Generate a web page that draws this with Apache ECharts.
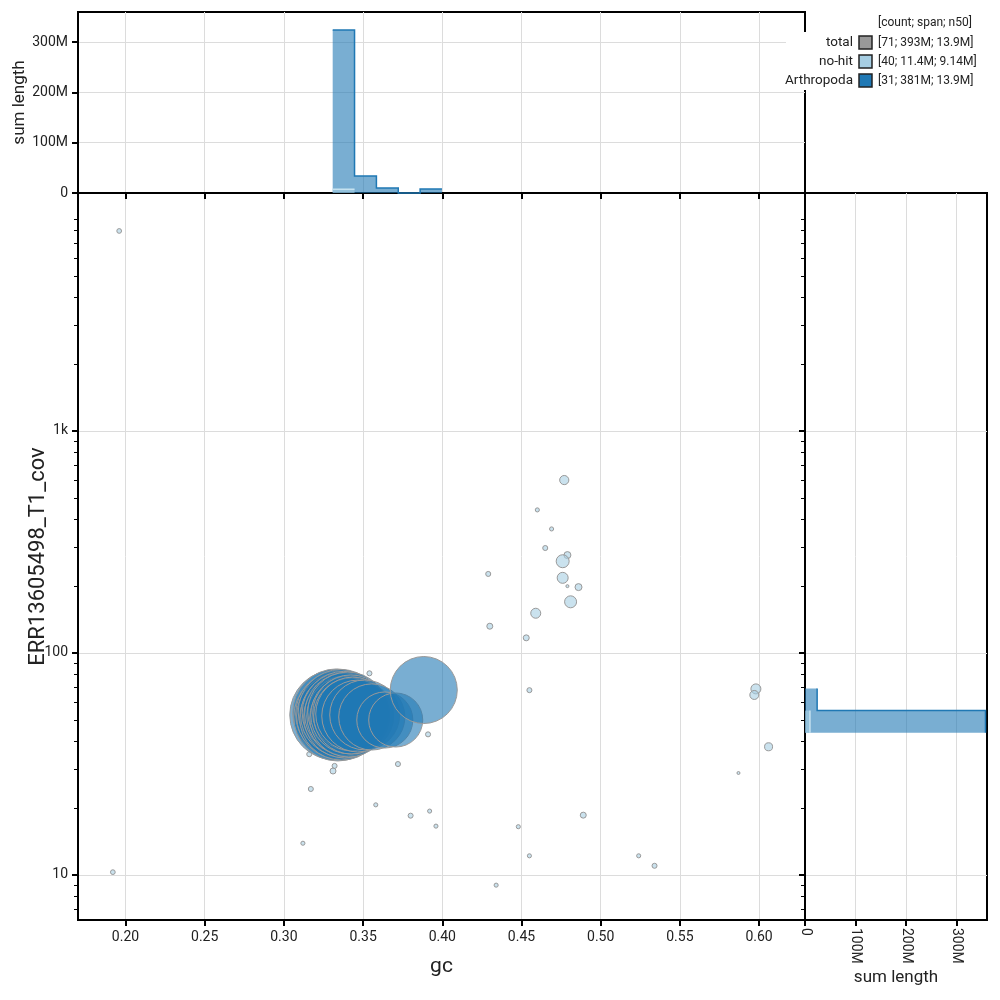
<!DOCTYPE html>
<html>
<head>
<meta charset="utf-8">
<script src="https://cdn.jsdelivr.net/npm/echarts@6.0.0/dist/echarts.min.js"></script>
<style>
  html, body { margin: 0; padding: 0; background: #fff; }
  #chart { width: 1000px; height: 1000px; }
</style>
</head>
<body>
<div id="chart"></div>
<script>
// axis ticks
const gcTicks = [0.2, 0.25, 0.3, 0.35, 0.4, 0.45, 0.5, 0.55, 0.6];
const covTicks = [10, 100, 1000];
const covMinorTicks = [7, 8, 9, 20, 30, 40, 50, 60, 70, 80, 90, 200, 300, 400, 500, 600, 700, 800, 900,
  2000, 3000, 4000, 5000, 6000, 7000, 8000, 9000];
const lenTicks = [0, 100e6, 200e6, 300e6];

// no-hit contigs (gc, coverage, length in Mb)
const noHitGc = [0.338, 0.196, 0.192, 0.477, 0.460, 0.469, 0.465, 0.479, 0.476, 0.476, 0.479, 0.486, 0.481,
  0.429, 0.459, 0.430, 0.453, 0.455, 0.354, 0.391, 0.316, 0.332, 0.331, 0.317, 0.372, 0.358, 0.380, 0.392,
  0.396, 0.312, 0.448, 0.489, 0.455, 0.524, 0.534, 0.434, 0.598, 0.597, 0.606, 0.587];
const noHitCov = [50, 7960, 10.3, 601, 441, 362, 297, 276, 259, 218, 200, 198, 170,
  227, 151, 132, 117, 68, 81, 43, 35, 31, 29.4, 24.4, 31.6, 20.7, 18.5, 19.4,
  16.6, 13.9, 16.5, 18.6, 12.2, 12.2, 11.0, 9.0, 68.9, 64.7, 37.8, 28.8];
const noHitLen = [9.14, 0.04, 0.04, 0.15, 0.03, 0.03, 0.045, 0.087, 0.3, 0.215, 0.016, 0.087, 0.256,
  0.045, 0.178, 0.064, 0.064, 0.045, 0.045, 0.045, 0.045, 0.045, 0.064, 0.045, 0.045, 0.03, 0.045, 0.03,
  0.03, 0.03, 0.03, 0.064, 0.03, 0.03, 0.045, 0.03, 0.178, 0.144, 0.114, 0.016];

// Arthropoda contigs (gc, coverage, length in Mb)
const arthGc = [0.3308, 0.3352, 0.3289, 0.3403, 0.3384, 0.3327, 0.3415,
  0.3321, 0.3333, 0.3340, 0.3346, 0.3352, 0.3359, 0.3365, 0.3371, 0.3378, 0.3384, 0.3390, 0.3397,
  0.3403, 0.3409, 0.3415, 0.3422, 0.3428, 0.3434, 0.3466, 0.3510, 0.3555, 0.3637, 0.3706, 0.3883];
const arthCov = [58.3, 45.0, 49.9, 61.4, 42.7, 47.4, 56.5,
  52.6, 53.7, 51.5, 53.1, 52.0, 54.2, 50.9, 52.6, 53.7, 51.5, 53.1, 52.0,
  54.2, 50.9, 52.6, 53.7, 52.0, 53.1, 52.0, 52.6, 51.5, 49.9, 49.9, 68.1];
const arthLen = [1.6, 2.85, 2.2, 1.4, 1.1, 0.7, 0.86,
  14.4, 13.8, 13.8, 13.2, 13.2, 12.9, 12.6, 12.6, 12.3, 12.0, 12.0, 11.4,
  11.4, 10.8, 10.8, 10.3, 10.3, 9.7, 9.2, 8.7, 7.8, 5.6, 5.2, 8.0];

// gc histogram: bin edges and sum length per bin (Mb)
const arthGcEdges = [0.3308, 0.3446, 0.3584, 0.3722, 0.3860, 0.3998];
const arthGcSum = [324, 34, 10, 0, 8];
const noHitGcEdges = [0.3308, 0.3446];
const noHitGcSum = [7.5];

// coverage histogram: bin edges and sum length per bin (Mb)
const arthCovEdges = [43.7, 55.0, 69.2];
const arthCovSum = [357, 24];
const noHitCovEdges = [43.7, 55.0];
const noHitCovSum = [9.8];

// legend
const legendNames = ['total', 'no-hit', 'Arthropoda'];
const legendStats = ['[71; 393M; 13.9M]', '[40; 11.4M; 9.14M]', '[31; 381M; 13.9M]'];
const legendColors = ['#999999', '#a6cee3', '#1f78b4'];

const FONT = 'Roboto';
const GRID_LINE = '#dcdcdc';
const sizeOf = mb => 23.7 * Math.sqrt(mb);
const fmtLen = v => v === 0 ? '0' : (v / 1e6) + 'M';
const fmtCov = v => v >= 1000 ? (v / 1000) + 'k' : String(v);

const chart = echarts.init(document.getElementById('chart'));

// step outline for the gc histogram
function gcStep(edges, sums) {
  const pts = [[edges[0], 0]];
  sums.forEach((s, i) => {
    pts.push([edges[i], s * 1e6]);
    pts.push([edges[i + 1], s * 1e6]);
  });
  pts.push([edges[edges.length - 1], 0]);
  return pts;
}

// step outline for the coverage histogram
function covStep(edges, sums) {
  const pts = [[0, edges[0]]];
  sums.forEach((s, i) => {
    pts.push([s * 1e6, edges[i]]);
    pts.push([s * 1e6, edges[i + 1]]);
  });
  pts.push([0, edges[edges.length - 1]]);
  return pts;
}

function histSeries(xi, yi, pts, fill, stroke) {
  return {
    type: 'custom',
    xAxisIndex: xi,
    yAxisIndex: yi,
    silent: true,
    data: [pts[0]],
    renderItem: (params, api) => {
      const px = pts.map(p => api.coord(p));
      return {
        type: 'group',
        children: [
          { type: 'polygon', shape: { points: px }, style: { fill: fill } },
          { type: 'polyline', shape: { points: px.slice(1, -1) }, style: { fill: null, stroke: stroke, lineWidth: 1.5 } }
        ]
      };
    }
  };
}

const axisLine = { show: true, lineStyle: { color: '#000', width: 2 } };
const labelStyle = { fontFamily: FONT, fontSize: 14, color: '#222' };
const split = { show: true, lineStyle: { color: GRID_LINE, width: 1 } };

const legendGraphics = [
  { type: 'rect', shape: { x: 786, y: 32, width: 190, height: 58 }, style: { fill: '#fff' }, z: 100 },
  { type: 'text', x: 878, y: 23, z: 101,
    style: { text: '[count; span; n50]', font: '12px Roboto', fill: '#222', verticalAlign: 'middle' } }
];
legendNames.forEach((name, i) => {
  const y = 43 + i * 19;
  legendGraphics.push(
    { type: 'text', x: 853, y: y, z: 101,
      style: { text: name, font: '13.5px Roboto', fill: '#222', align: 'right', verticalAlign: 'middle' } },
    { type: 'rect', shape: { x: 859, y: y - 7, width: 13, height: 13 }, z: 101,
      style: { fill: legendColors[i], stroke: '#222', lineWidth: 1.5 } },
    { type: 'text', x: 878, y: y, z: 101,
      style: { text: legendStats[i], font: '12px Roboto', fill: '#222', verticalAlign: 'middle' } }
  );
});

const option = {
  backgroundColor: '#fff',
  animation: false,
  textStyle: { fontFamily: FONT },
  grid: [
    { left: 78, top: 193, width: 727, height: 727, show: true, borderColor: '#000', borderWidth: 2, outerBoundsMode: 'none' },
    { left: 78, top: 12, width: 727, height: 181, show: true, borderColor: '#000', borderWidth: 2, outerBoundsMode: 'none' },
    { left: 805, top: 193, width: 182, height: 727, show: true, borderColor: '#000', borderWidth: 2, outerBoundsMode: 'none' }
  ],
  xAxis: [
    { type: 'value', gridIndex: 0, min: 0.17, max: 0.629,
      name: 'gc', nameLocation: 'middle', nameGap: 36, nameMoveOverlap: false,
      nameTextStyle: { fontFamily: FONT, fontSize: 21, color: '#222' },
      axisLine: axisLine,
      axisTick: { show: true, length: 6, customValues: gcTicks, lineStyle: { color: '#000', width: 2 } },
      axisLabel: Object.assign({ customValues: gcTicks, margin: 10, formatter: v => v.toFixed(2) }, labelStyle),
      splitLine: split },
    { type: 'value', gridIndex: 1, min: 0.17, max: 0.629,
      axisLine: axisLine,
      axisTick: { show: true, length: 6, customValues: gcTicks, lineStyle: { color: '#000', width: 2 } },
      axisLabel: { show: false },
      splitLine: split },
    { type: 'value', gridIndex: 2, min: 0, max: 360e6,
      name: 'sum length', nameLocation: 'middle', nameGap: 49, nameMoveOverlap: false,
      nameTextStyle: { fontFamily: FONT, fontSize: 17, color: '#222' },
      axisLine: axisLine,
      axisTick: { show: true, length: 6, customValues: lenTicks, lineStyle: { color: '#000', width: 2 } },
      axisLabel: Object.assign({ customValues: lenTicks, rotate: -90, margin: 8, formatter: fmtLen }, labelStyle),
      splitLine: split }
  ],
  yAxis: [
    { type: 'log', logBase: 10, gridIndex: 0, position: 'left', min: 6.27, max: 11800,
      name: 'ERR13605498_T1_cov', nameLocation: 'middle', nameGap: 29, nameMoveOverlap: false,
      nameTextStyle: { fontFamily: FONT, fontSize: 22, color: '#222' },
      axisLine: axisLine,
      axisTick: { show: true, length: 6, customValues: covTicks, lineStyle: { color: '#000', width: 2 } },
      axisLabel: Object.assign({ customValues: covTicks, margin: 10, formatter: fmtCov }, labelStyle),
      splitLine: split, minorTick: { show: false } },
    { type: 'log', logBase: 10, gridIndex: 0, position: 'left', offset: 0, min: 6.27, max: 11800,
      axisLine: { show: false },
      axisTick: { show: true, length: 4, customValues: covMinorTicks, lineStyle: { color: '#000', width: 1 } },
      axisLabel: { show: false },
      splitLine: { show: false } },
    { type: 'value', gridIndex: 1, min: 0, max: 360e6,
      name: 'sum length', nameLocation: 'middle', nameGap: 50, nameMoveOverlap: false,
      nameTextStyle: { fontFamily: FONT, fontSize: 17, color: '#222' },
      axisLine: axisLine,
      axisTick: { show: true, length: 6, customValues: lenTicks, lineStyle: { color: '#000', width: 2 } },
      axisLabel: Object.assign({ customValues: lenTicks, margin: 10, formatter: fmtLen }, labelStyle),
      splitLine: split },
    { type: 'log', logBase: 10, gridIndex: 2, position: 'left', min: 6.27, max: 11800,
      axisLine: axisLine,
      axisTick: { show: true, length: 6, customValues: covTicks, lineStyle: { color: '#000', width: 2 } },
      axisLabel: { show: false },
      splitLine: split },
    { type: 'log', logBase: 10, gridIndex: 2, position: 'left', offset: 0, min: 6.27, max: 11800,
      axisLine: { show: false },
      axisTick: { show: true, length: 4, customValues: covMinorTicks, lineStyle: { color: '#000', width: 1 } },
      axisLabel: { show: false },
      splitLine: { show: false } }
  ],
  series: [
    {
      name: 'no-hit', type: 'scatter', xAxisIndex: 0, yAxisIndex: 0,
      symbol: 'circle',
      symbolSize: v => sizeOf(v[2]),
      data: noHitGc.map((g, i) => [g, noHitCov[i], noHitLen[i]]),
      itemStyle: { color: 'rgba(166,206,227,0.6)', borderColor: '#999', borderWidth: 1, opacity: 1 },
      emphasis: { disabled: true }
    },
    {
      name: 'Arthropoda', type: 'scatter', xAxisIndex: 0, yAxisIndex: 0,
      symbol: 'circle',
      symbolSize: v => sizeOf(v[2]),
      data: arthGc.map((g, i) => [g, arthCov[i], arthLen[i]]),
      itemStyle: { color: 'rgba(31,120,180,0.6)', borderColor: '#999', borderWidth: 1, opacity: 1 },
      emphasis: { disabled: true }
    },
    histSeries(1, 2, gcStep(arthGcEdges, arthGcSum), 'rgba(31,120,180,0.6)', '#1f78b4'),
    histSeries(1, 2, gcStep(noHitGcEdges, noHitGcSum), 'rgba(166,206,227,0.6)', '#c6e2f0'),
    histSeries(2, 3, covStep(arthCovEdges, arthCovSum), 'rgba(31,120,180,0.6)', '#1f78b4'),
    histSeries(2, 3, covStep(noHitCovEdges, noHitCovSum), 'rgba(166,206,227,0.6)', '#c6e2f0')
  ],
  graphic: legendGraphics
};

chart.setOption(option);
</script>
</body>
</html>
